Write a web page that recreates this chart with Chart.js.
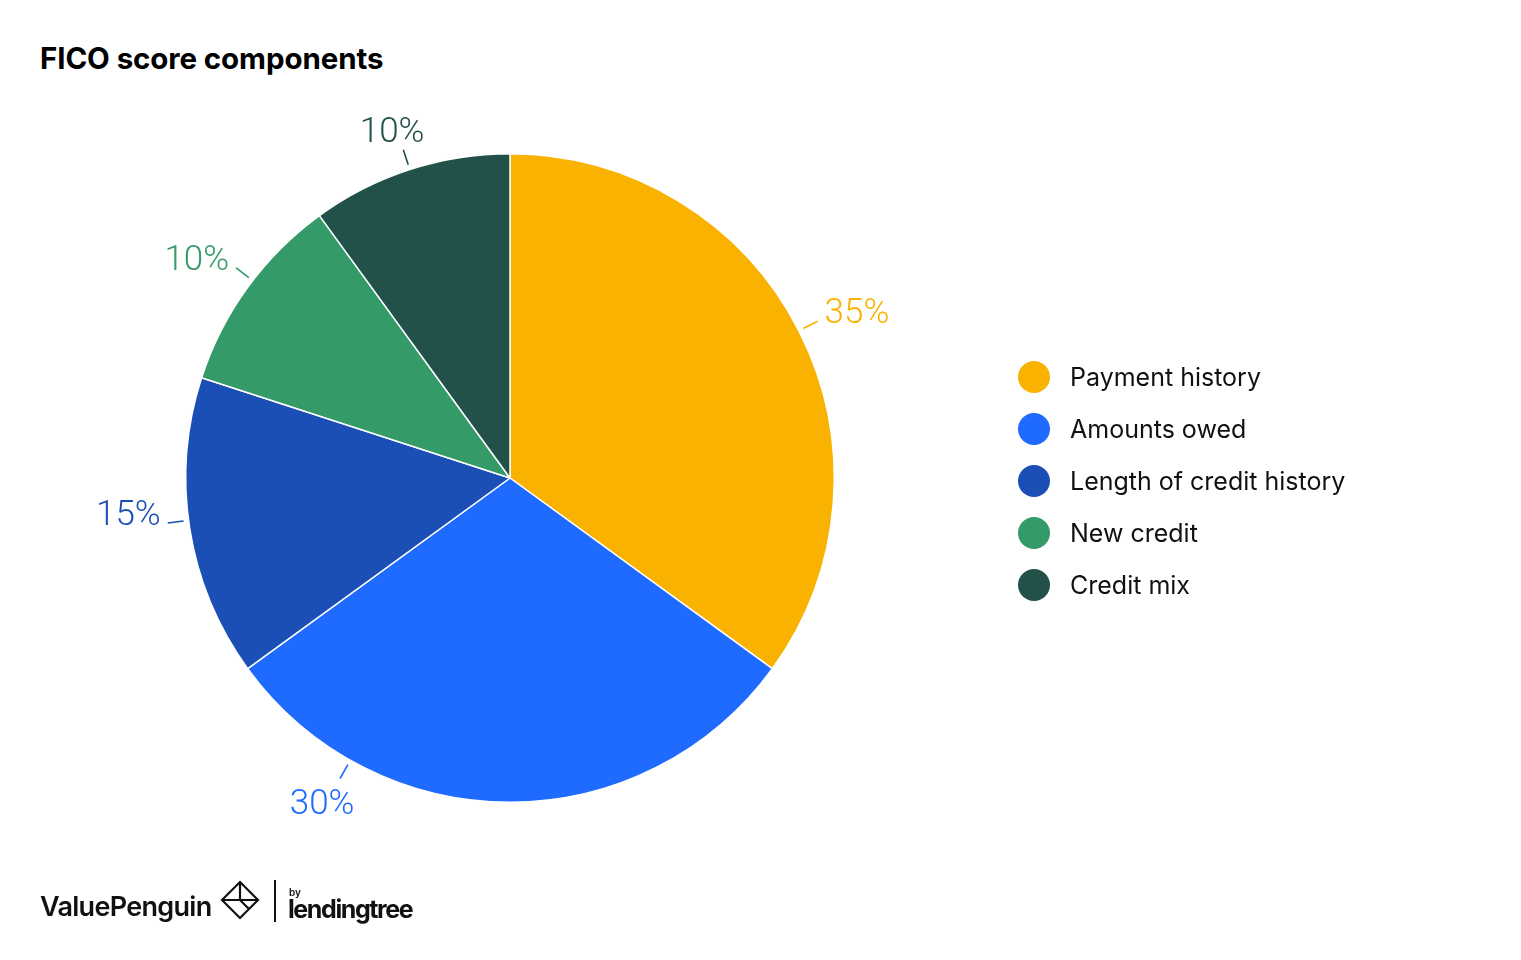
<!DOCTYPE html>
<html>
<head>
<meta charset="utf-8">
<script src="https://cdn.jsdelivr.net/npm/chart.js@4/dist/chart.umd.min.js"></script>
<style>
  html, body { margin: 0; padding: 0; background: #fff; }
  body { width: 1521px; height: 960px; position: relative; overflow: hidden; font-family: Inter, "Noto Sans", sans-serif; }
  #title { position: absolute; left: 40px; top: 40px; font-size: 29.5px; font-weight: 700; color: #000; letter-spacing: -0.1px; }
  #wrap { position: absolute; left: 0; top: 0; width: 1521px; height: 960px; }
  #legend { position: absolute; left: 1018px; top: 361px; }
  .item { position: relative; height: 52px; }
  .dot { position: absolute; left: 0; top: 0; width: 32px; height: 32px; border-radius: 50%; }
  .lbl { position: absolute; left: 52px; top: 0; line-height: 32px; font-size: 25px; color: #111; white-space: nowrap; }
  #logo { position: absolute; left: 40px; top: 878px; height: 46px; }
  #vp { position: absolute; left: 0; top: 12px; font-size: 27px; font-weight: 600; color: #111; letter-spacing: -0.7px; white-space: nowrap; }
  #sep { position: absolute; left: 234px; top: 2px; width: 2px; height: 42px; background: #111; }
  #by { position: absolute; left: 249px; top: 8px; font-size: 10px; font-weight: 600; color: #111; }
  #lt { position: absolute; left: 248px; top: 16px; font-size: 25px; font-weight: 700; color: #111; letter-spacing: -1.4px; }
</style>
</head>
<body>
<div id="title">FICO score components</div>
<div id="wrap"><canvas id="pie"></canvas></div>
<div id="legend"></div>
<div id="logo">
  <div id="vp">ValuePenguin</div>
  <svg style="position:absolute;left:180px;top:2px" width="40" height="40" viewBox="0 0 40 40">
    <path d="M20 2 L38 20 L20 38 L2 20 Z M20 2 L20 20 L38 20 M20 20 L2 20 M20 20 L29 29" fill="none" stroke="#111" stroke-width="2.2"/>
  </svg>
  <div id="sep"></div>
  <div id="by">by</div>
  <div id="lt">lendingtree</div>
</div>
<script>
// Data
var categories = ['Payment history', 'Amounts owed', 'Length of credit history', 'New credit', 'Credit mix'];
var shares = [35, 30, 15, 10, 10];
var colors = ['#F9B200', '#1F6BFF', '#1B4FB6', '#349A68', '#22514A'];

// legend built from the same arrays
var legend = document.getElementById('legend');
categories.forEach(function(name, i) {
    var row = document.createElement('div');
    row.className = 'item';
    row.innerHTML = '<span class="dot" style="background:' + colors[i] + '"></span><span class="lbl">' + name + '</span>';
    legend.appendChild(row);
});

// outside labels with short leader lines
var outsideLabels = {
    id: 'outsideLabels',
    afterDatasetsDraw: function(chart, args, opts) {
        var ctx = chart.ctx;
        var arcs = chart.getDatasetMeta(0).data;
        ctx.save();
        ctx.font = '300 35px Roboto, Inter, sans-serif';
        arcs.forEach(function(arc, i) {
            var p = arc.getProps(['x', 'y', 'startAngle', 'endAngle', 'outerRadius'], true);
            var mid = (p.startAngle + p.endAngle) / 2;
            if (opts.angleShift && opts.angleShift[i]) mid += opts.angleShift[i] * Math.PI / 180;
            var dx = Math.cos(mid), dy = Math.sin(mid);
            var r = p.outerRadius;
            var ex = p.x + dx * (r + 21), ey = p.y + dy * (r + 21);
            ctx.strokeStyle = colors[i];
            ctx.lineWidth = 1.6;
            ctx.beginPath();
            ctx.moveTo(p.x + dx * (r + 5), p.y + dy * (r + 5));
            ctx.lineTo(ex, ey);
            ctx.stroke();

            var text = shares[i] + '%';
            var w = ctx.measureText(text).width;
            ctx.fillStyle = colors[i];
            if (Math.abs(dx) > 0.7) {
                // side label: sits on the leader end
                ctx.textAlign = dx > 0 ? 'left' : 'right';
                ctx.textBaseline = 'alphabetic';
                ctx.fillText(text, ex + (dx > 0 ? 7 : -7), ey + 2);
            } else {
                ctx.textAlign = 'center';
                ctx.textBaseline = dy < 0 ? 'alphabetic' : 'top';
                ctx.fillText(text, ex + dx * (w / 2 + 4), dy < 0 ? ey - 8 : ey + 9);
            }
        });
        ctx.restore();
    }
};

var chart = new Chart(document.getElementById('pie'), {
    type: 'pie',
    data: {
        labels: categories,
        datasets: [{
            data: shares,
            backgroundColor: colors,
            borderColor: '#ffffff',
            borderWidth: 1.5
        }]
    },
    options: {
        responsive: true,
        maintainAspectRatio: false,
        animation: false,
        layout: { padding: { left: 185, right: 686, top: 153, bottom: 157 } },
        plugins: {
            legend: { display: false },
            tooltip: { enabled: false },
            outsideLabels: { angleShift: { 1: 29.5, 2: 1.5, 3: 1.5 } }
        }
    },
    plugins: [outsideLabels]
});
</script>
</body>
</html>
